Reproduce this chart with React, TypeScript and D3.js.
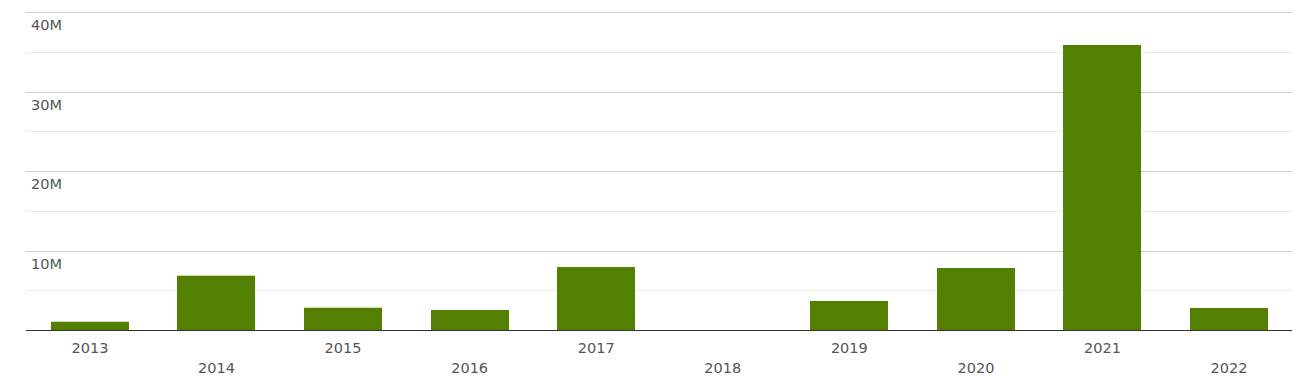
import React from "react";
import * as d3 from "d3";

const years = ["2013", "2014", "2015", "2016", "2017", "2018", "2019", "2020", "2021", "2022"];
const values = [1.04e6, 6.83e6, 2.8e6, 2.52e6, 7.92e6, 0, 3.65e6, 7.8e6, 35.85e6, 2.77e6];
const majorTicks = [10e6, 20e6, 30e6, 40e6];
const minorTicks = [5e6, 15e6, 25e6, 35e6];
const tickLabel = (v: number) => `${v / 1e6}M`;

export default function App() {
  const W = 1293, H = 384;
  const left = 26, right = 1292, top = 12, bottom = 330;
  const x = d3.scaleBand<string>().domain(years).range([left + 0.5, right + 0.5]).paddingInner(0.3837).paddingOuter(0.193);
  const y = d3.scaleLinear().domain([0, 40e6]).range([bottom, top]);
  const font = "'DejaVu Sans', sans-serif";
  return (
    <svg width={W} height={H} style={{ position: "absolute", left: 0, top: 0 }} fontFamily={font}>
      {minorTicks.map((t) => (
        <line key={"m" + t} x1={left} x2={right} y1={Math.round(y(t)) + 0.5} y2={Math.round(y(t)) + 0.5} stroke="#ebebeb" strokeWidth={1} />
      ))}
      {majorTicks.map((t) => (
        <line key={"M" + t} x1={left} x2={right} y1={Math.round(y(t)) + 0.5} y2={Math.round(y(t)) + 0.5} stroke="#cccccc" strokeWidth={1} />
      ))}
      {majorTicks.map((t) => (
        <text key={"l" + t} x={31} y={y(t) + 18} fontSize={14.5} fill="#555">{tickLabel(t)}</text>
      ))}
      {years.map((yr, i) => (
        values[i] > 0 ? (
          <rect key={yr} x={Math.round(x(yr) as number)} y={y(values[i])} width={Math.round(x.bandwidth())} height={bottom - y(values[i])} fill="#538000" />
        ) : null
      ))}
      <line x1={left} x2={right} y1={bottom + 0.5} y2={bottom + 0.5} stroke="#333" strokeWidth={1} />
      {years.map((yr, i) => (
        <text key={"x" + yr} x={(x(yr) as number) + x.bandwidth() / 2} y={i % 2 === 0 ? 353 : 373} fontSize={14.5} fill="#555" textAnchor="middle">{yr}</text>
      ))}
    </svg>
  );
}
